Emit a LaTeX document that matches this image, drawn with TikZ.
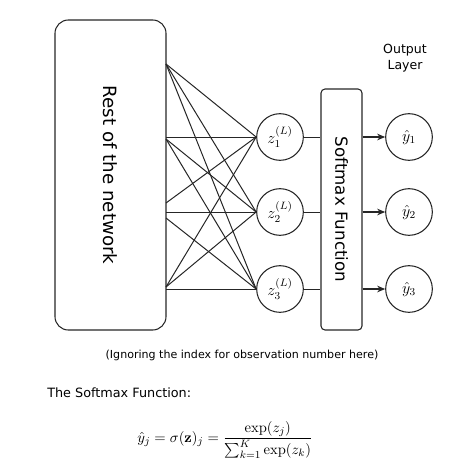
\documentclass[tikz,border=0pt]{standalone}
\usepackage[no-math]{fontspec}
\setmainfont{DejaVu Sans}
\usepackage{amsmath}
\usetikzlibrary{shapes.geometric, arrows.meta, positioning}

\begin{document}
\begin{tikzpicture}
  [x=0.75pt, y=-0.75pt,
  block/.style={rectangle, draw=black!85, line width=0.8pt,
    align=center, inner sep=0pt},
  neuron/.style={circle, draw=black!85, line width=0.8pt,
    minimum size=35pt, inner sep=0pt, font=\fontsize{11.5}{13}\selectfont},
  blank/.style={align=center, inner sep=0pt},
  line/.style={draw=black!85, line width=0.75pt},
  arrow/.style={draw=black!85, line width=0.8pt, -{Stealth[length=6pt,width=5pt]}}]

  \useasboundingbox (0,0) rectangle (474,471);

  % boxes
  \node [block, rotate=-90, rounded corners=10pt, minimum width=232.5pt,
    minimum height=83.25pt, font=\fontsize{13.7}{16}\selectfont]
    (rest) at (110.5,175) {Rest of the network};
  \node [block, rotate=-90, rounded corners=3pt, minimum width=180.75pt,
    minimum height=30.75pt, font=\fontsize{12.5}{14}\selectfont]
    (soft) at (341.5,209.5) {Softmax Function};

  % neurons
  \node [neuron] (z1) at (280,137) {$z_1^{(L)}$};
  \node [neuron] (z2) at (280,212) {$z_2^{(L)}$};
  \node [neuron] (z3) at (280,289) {$z_3^{(L)}$};
  \node [neuron] (y1) at (409,137) {$\hat{y}_1$};
  \node [neuron] (y2) at (409,212) {$\hat{y}_2$};
  \node [neuron] (y3) at (409,289) {$\hat{y}_3$};

  % texts
  \node [blank, font=\fontsize{9.4}{12}\selectfont] (out) at (405,58) {Output\\Layer};
  \node [blank, font=\fontsize{8.3}{10}\selectfont] (note) at (242,355)
    {(Ignoring the index for observation number here)};
  \node [blank, anchor=west, font=\fontsize{9.6}{12}\selectfont] (title) at (47,393)
    {The Softmax Function:};
  \node [blank, font=\fontsize{11.4}{14}\selectfont] (formula) at (225,440)
    {$\displaystyle \hat{y}_j = \sigma(\mathbf{z})_j
      = \frac{\exp(z_j)}{\sum_{k=1}^{K}\exp(z_k)}$};

  % ends on the network box
  \coordinate (a)  at (166,64);
  \coordinate (b1) at (166,137);
  \coordinate (b2) at (166,139);
  \coordinate (c1) at (166,203);
  \coordinate (c2) at (166,212);
  \coordinate (c3) at (166,218);
  \coordinate (d1) at (166,287);
  \coordinate (d2) at (166,289);

  \begin{scope}[every path/.style=line]
    \path (a) -- (z1.west);
    \path (a) -- (z2.west);
    \path (a) -- (z3.west);
    \path (b1) -- (z1.west);
    \path (b2) -- (z2.west);
    \path (b2) -- (z3.west);
    \path (c1) -- (z1.west);
    \path (c2) -- (z2.west);
    \path (c3) -- (z3.west);
    \path (d1) -- (z1.west);
    \path (d1) -- (z2.west);
    \path (d2) -- (z3.west);
    \path (z1) -- (z1 -| soft.south);
    \path (z2) -- (z2 -| soft.south);
    \path (z3) -- (z3 -| soft.south);
  \end{scope}

  \begin{scope}[every path/.style=arrow]
    \path (y1 -| soft.north) -- (y1);
    \path (y2 -| soft.north) -- (y2);
    \path (y3 -| soft.north) -- (y3);
  \end{scope}

\end{tikzpicture}
\end{document}
